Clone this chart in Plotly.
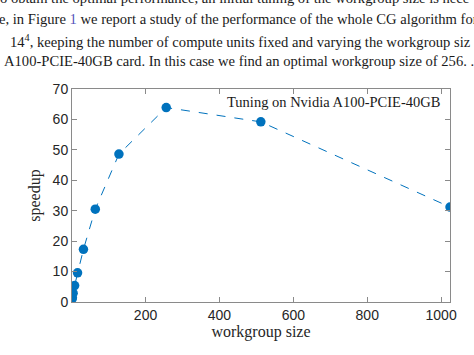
import plotly.graph_objects as go

workgroup_size = [1, 2, 4, 8, 16, 32, 64, 128, 256, 512, 1024]
speedup = [1.0, 1.4, 2.9, 5.4, 9.6, 17.3, 30.5, 48.6, 63.9, 59.2, 31.2]
x_ticks = [200, 400, 600, 800, 1000]
y_ticks = [0, 10, 20, 30, 40, 50, 60, 70]

BLUE = "#0072BD"
L, R, T, B = 71.7, 449.6, 89, 302
W, H = 474, 355
pw, ph = R - L, B - T

def px(x):
    return (x - L) / pw

def py(y):
    return (B - y) / ph

fig = go.Figure()
fig.add_trace(go.Scatter(
    x=workgroup_size, y=speedup, mode="lines+markers",
    line=dict(color=BLUE, width=1, dash="dash"),
    marker=dict(color=BLUE, size=9.5),
    showlegend=False,
))

axis_common = dict(
    showline=True, mirror="ticks", linecolor="#8a8a8a", linewidth=1,
    ticks="inside", ticklen=5, tickcolor="#8a8a8a",
    showgrid=False, zeroline=False,
    tickfont=dict(family="Liberation Sans, Arial", size=14, color="#262626"),
)
fig.update_xaxes(range=[1, 1024], tickvals=x_ticks,
                 title=dict(text="workgroup size", standoff=0,
                            font=dict(family="Liberation Serif, serif", size=16, color="#262626")),
                 **axis_common)
fig.update_yaxes(range=[0, 70], tickvals=y_ticks,
                 title=dict(text="speedup", standoff=8,
                            font=dict(family="Liberation Serif, serif", size=16, color="#262626")),
                 **axis_common)

serif = dict(family="Liberation Serif, Times New Roman, serif", size=14.6, color="#1a1a1a")
lines = [
    (-2, -2, "o obtain the optimal performance, an initial tuning of the workgroup size is nece"),
    (-3, 19, "e, in Figure <span style='color:#5555bb'>1</span> we report a study of the performance of the whole CG algorithm for"),
    (8, 41, "14<sup>4</sup>, keeping the number of compute units fixed and varying the workgroup siz"),
    (2, 61, "A100-PCIE-40GB card. In this case we find an optimal workgroup size of 256. ."),
]
annotations = []
for x0, y0, txt in lines:
    annotations.append(dict(
        text=txt, xref="paper", yref="paper", x=px(x0), y=py(y0),
        xanchor="left", yanchor="middle", showarrow=False, font=serif,
    ))
annotations.append(dict(
    text="Tuning on Nvidia A100-PCIE-40GB", xref="paper", yref="paper",
    x=px(442), y=py(102), xanchor="right", yanchor="middle", showarrow=False,
    font=dict(family="Liberation Serif, serif", size=14.5, color="#1a1a1a"),
))

fig.update_layout(
    width=W, height=H,
    margin=dict(l=L, r=W - R, t=T, b=H - B),
    paper_bgcolor="white", plot_bgcolor="white",
    annotations=annotations,
    hovermode=False,
)
fig.write_html("out.html", config={"displayModeBar": False},
               post_script="document.body.style.margin='0';document.body.style.overflow='hidden';")
